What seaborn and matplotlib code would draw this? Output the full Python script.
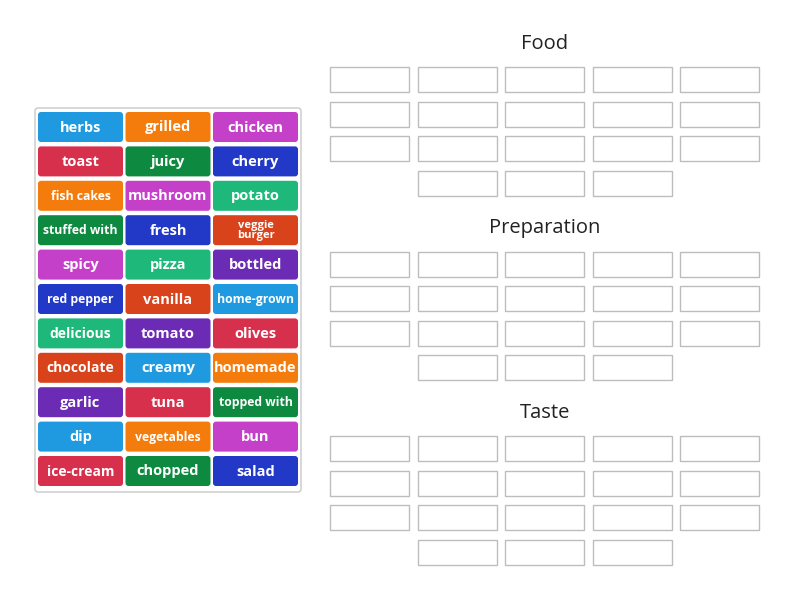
import matplotlib
matplotlib.use("Agg")
import matplotlib.pyplot as plt
from matplotlib.patches import FancyBboxPatch, Rectangle
import seaborn as sns

words = ["herbs", "grilled", "chicken",
         "toast", "juicy", "cherry",
         "fish cakes", "mushroom", "potato",
         "stuffed with", "fresh", "veggie\nburger",
         "spicy", "pizza", "bottled",
         "red pepper", "vanilla", "home-grown",
         "delicious", "tomato", "olives",
         "chocolate", "creamy", "homemade",
         "garlic", "tuna", "topped with",
         "dip", "vegetables", "bun",
         "ice-cream", "chopped", "salad"]
palette = {"blue": "#1f9ae0", "orange": "#f47c0c", "magenta": "#c440c8",
           "red": "#d7304d", "green": "#0d8a3f", "dblue": "#2238c6",
           "teal": "#1db87a", "rorange": "#d8431c", "purple": "#6b2bb4"}
tile_colors = ["blue", "orange", "magenta",
               "red", "green", "dblue",
               "orange", "magenta", "teal",
               "green", "dblue", "rorange",
               "magenta", "teal", "purple",
               "dblue", "rorange", "blue",
               "teal", "purple", "red",
               "rorange", "blue", "orange",
               "purple", "red", "green",
               "blue", "orange", "magenta",
               "red", "green", "dblue"]
groups = ["Food", "Preparation", "Taste"]

sns.set_theme(style="white")
plt.rcParams['font.family'] = ['Open Sans', 'DejaVu Sans']
fig = plt.figure(figsize=(8, 6), dpi=100)
ax = fig.add_axes([0, 0, 1, 1])
ax.set_xlim(0, 800); ax.set_ylim(600, 0); ax.axis("off")

ax.add_patch(FancyBboxPatch((35, 108), 266, 384, boxstyle="round,pad=0,rounding_size=3",
                            fc="white", ec="#c8c8c8", lw=1))
for i, (w, c) in enumerate(zip(words, tile_colors)):
    r, col = divmod(i, 3)
    x = 38 + col * 87.5
    y = 112 + r * 34.4
    ax.add_patch(FancyBboxPatch((x, y), 85, 30, boxstyle="round,pad=0,rounding_size=3",
                                fc=palette[c], ec="none"))
    if "\n" in w:
        fs = 8
    elif len(w) >= 10:
        fs = 8.8
    elif len(w) >= 9:
        fs = 10
    else:
        fs = 10.5
    ax.text(x + 42.5, y + 15.5, w, ha="center", va="center", color="white",
            fontweight="bold", fontsize=fs, linespacing=0.9)

xs = [330, 417.5, 505, 592.5, 680]
for g, name in enumerate(groups):
    oy = g * 184.5
    ax.text(545, 44 + oy, name, ha="center", va="center", fontsize=14.5, color="#222222")
    for r in range(4):
        cols = range(5) if r < 3 else range(1, 4)
        for c in cols:
            ax.add_patch(Rectangle((xs[c], 67 + oy + r * 34.5), 79, 25,
                                   fc="white", ec="#bdbdbd", lw=1))
fig.savefig("out.png", dpi=100)
